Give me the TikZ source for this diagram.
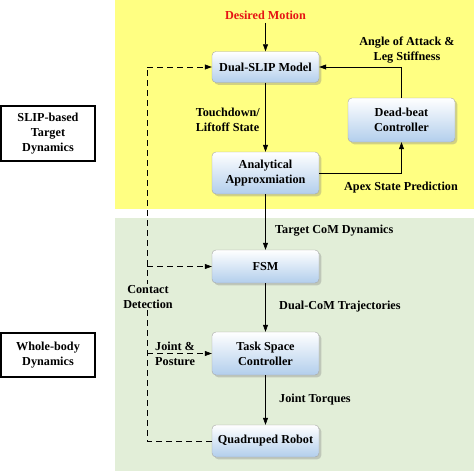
\documentclass[tikz,border=0pt]{standalone}
\usepackage{fontspec}
\setmainfont{Liberation Serif}
\usetikzlibrary{arrows.meta, shadows, positioning}
\definecolor{slipYellow}{RGB}{255,255,130}
\definecolor{bodyGreen}{RGB}{226,238,216}
\definecolor{boxBlue}{RGB}{178,206,236}
\definecolor{motionRed}{RGB}{230,20,20}
\tikzset{
    block/.style={draw=gray!70, rounded corners=4pt, top color=white, bottom color=boxBlue,
        minimum width=107pt, minimum height=31pt, align=center, drop shadow={opacity=0.35},
        font=\bfseries\fontsize{12.2}{15}\selectfont},
    sideBox/.style={draw=black, line width=1.2pt, minimum width=94pt, align=center,
        font=\bfseries\fontsize{12.2}{15}\selectfont},
    lbl/.style={align=left, font=\bfseries\fontsize{12.2}{15}\selectfont, inner sep=1pt},
    flow/.style={-{Triangle[length=7pt,width=5pt]}, semithick},
    feedback/.style={flow, dash pattern=on 6pt off 4pt}
}
\begin{document}
\begin{tikzpicture}[x=1pt, y=-1pt]
\useasboundingbox (0,0) rectangle (474,472);
% background regions
\fill[slipYellow] (115,0) rectangle (474,209);
\fill[bodyGreen] (115,218) rectangle (474,471);
% side labels
\node[sideBox, minimum height=55pt] (slipLbl) at (48,133.5) {SLIP-based\\Target\\Dynamics};
\node[sideBox, minimum height=44pt] (bodyLbl) at (48,355) {Whole-body\\Dynamics};
% blocks
\node[block] (dualSlip) at (265.5,67) {Dual-SLIP Model};
\node[block, minimum height=44pt] (deadBeat) at (401.5,120) {Dead-beat\\Controller};
\node[block, minimum height=42pt] (analytic) at (265.5,173) {Analytical\\Approxmiation};
\node[block, minimum height=33pt] (fsm) at (265.5,266.5) {FSM};
\node[block, minimum height=43pt] (taskSpace) at (265.5,353.5) {Task Space\\Controller};
\node[block, minimum height=32pt] (robot) at (265.5,441) {Quadruped Robot};
% inputs and labels
\node[text=motionRed, font=\bfseries\fontsize{12.2}{15}\selectfont] (desired) at (265.5,15) {Desired Motion};
\node[lbl, align=center] (angleLbl) at (407,50) {Angle of Attack \&\\Leg Stiffness};
\node[lbl, anchor=east] (touchLbl) at (261,120) {Touchdown/\\Liftoff State};
\node[lbl] (apexLbl) at (401,188) {Apex State Prediction};
\node[lbl, anchor=west] (targetLbl) at (274,231) {Target CoM Dynamics};
\node[lbl, anchor=west] (dualComLbl) at (278,307) {Dual-CoM Trajectories};
\node[lbl, anchor=west] (torqueLbl) at (278,400) {Joint Torques};
\node[lbl, anchor=west] (postureLbl) at (154,354) {Joint \&\\Posture};
% solid flow
\draw[flow] (desired) -- (dualSlip);
\draw[flow] (dualSlip) -- (analytic);
\draw[flow] (analytic) -- (fsm);
\draw[flow] (fsm) -- (taskSpace);
\draw[flow] (taskSpace) -- (robot);
\draw[flow] (analytic.east) -| (deadBeat.south);
\draw[flow] (deadBeat.north) |- (dualSlip.east);
% contact feedback
\coordinate (fbTop) at (147,67);
\coordinate (fbBottom) at (147,441);
\draw[dash pattern=on 6pt off 4pt, semithick] (robot.west) -- (fbBottom) -- (fbTop);
\draw[feedback] (fbTop) -- (dualSlip.west);
\draw[feedback] (fsm.west -| fbTop) -- (fsm.west);
\draw[feedback] (taskSpace.west -| fbTop) -- (taskSpace.west);
\node[lbl, align=center, fill=bodyGreen] (contactLbl) at (148,297) {Contact\\Detection};
\end{tikzpicture}
\end{document}
